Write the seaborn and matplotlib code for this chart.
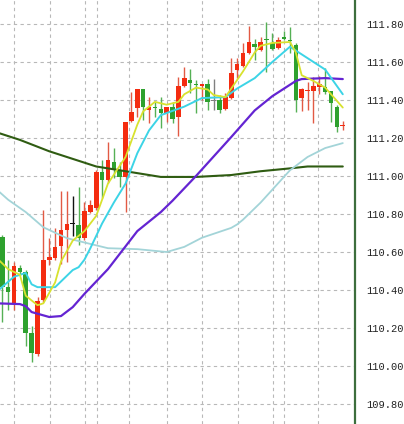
import numpy as np
import pandas as pd
import matplotlib
matplotlib.use("Agg")
import matplotlib.pyplot as plt
import seaborn as sns

# ---------------- data ----------------
opens = [110.679, 110.416, 110.331, 110.515, 110.494, 110.173, 110.063, 110.347, 110.558, 110.568,
         110.631, 110.715, 110.747, 110.742, 110.673, 110.810, 110.831, 111.021, 110.979, 111.073,
         111.031, 110.994, 111.289, 111.358, 111.458, 111.347, 111.363, 111.352, 111.331, 111.363,
         111.310, 111.473, 111.505, 111.484, 111.473, 111.484, 111.396, 111.400, 111.352, 111.410,
         111.558, 111.579, 111.647, 111.694, 111.663, 111.717, 111.700, 111.673, 111.731, 111.712,
         111.689, 111.410, 111.445, 111.447, 111.468, 111.468, 111.447, 111.363, 111.261]
highs = [110.690, 110.558, 110.547, 110.531, 110.505, 110.210, 110.363, 110.821, 110.673, 110.726,
         110.921, 110.921, 110.894, 110.942, 110.863, 110.873, 111.031, 111.084, 111.179, 111.147,
         111.073, 111.284, 111.442, 111.458, 111.458, 111.415, 111.389, 111.415, 111.363, 111.389,
         111.521, 111.573, 111.563, 111.505, 111.484, 111.510, 111.510, 111.426, 111.437, 111.621,
         111.621, 111.700, 111.789, 111.721, 111.731, 111.810, 111.752, 111.731, 111.763, 111.784,
         111.700, 111.463, 111.494, 111.521, 111.526, 111.568, 111.447, 111.373, 111.289]
lows = [110.231, 110.294, 110.294, 110.479, 110.105, 110.021, 110.052, 110.337, 110.531, 110.558,
        110.537, 110.547, 110.684, 110.636, 110.663, 110.805, 110.821, 110.884, 110.963, 110.989,
        110.942, 110.810, 111.284, 111.310, 111.294, 111.279, 111.310, 111.252, 111.284, 111.279,
        111.210, 111.468, 111.437, 111.331, 111.400, 111.347, 111.347, 111.331, 111.347, 111.405,
        111.515, 111.573, 111.642, 111.610, 111.658, 111.547, 111.663, 111.668, 111.715, 111.647,
        111.337, 111.342, 111.347, 111.279, 111.431, 111.431, 111.284, 111.231, 111.242]
closes = [110.416, 110.389, 110.526, 110.494, 110.173, 110.068, 110.342, 110.558, 110.573, 110.626,
          110.715, 110.747, 110.747, 110.673, 110.815, 110.847, 111.021, 110.979, 111.084, 111.031,
          110.994, 111.284, 111.337, 111.458, 111.363, 111.363, 111.358, 111.331, 111.363, 111.300,
          111.473, 111.515, 111.489, 111.479, 111.484, 111.389, 111.396, 111.347, 111.415, 111.542,
          111.589, 111.647, 111.705, 111.679, 111.705, 111.713, 111.668, 111.715, 111.721, 111.708,
          111.400, 111.458, 111.449, 111.473, 111.484, 111.442, 111.384, 111.258, 111.265]
doji_colors = {12: "#111111", 36: "#808080"}

# moving averages (candle index, price)
ma_yellow_x = [-1, 1, 3, 4, 6, 7, 9, 10, 12, 14, 16, 18, 21, 23, 24, 26, 28, 30, 31, 33, 35, 36, 38, 39,
               41, 43, 44, 46, 49, 50, 51, 53, 55, 58]
ma_yellow_y = [110.57, 110.51, 110.48, 110.37, 110.32, 110.33, 110.44, 110.55, 110.66, 110.71, 110.79,
               110.96, 111.10, 111.27, 111.34, 111.39, 111.375, 111.39, 111.43, 111.465, 111.455,
               111.426, 111.415, 111.46, 111.55, 111.65, 111.685, 111.70, 111.705, 111.65, 111.53,
               111.50, 111.465, 111.36]
ma_cyan_x = [-1, 2, 4, 5, 6, 9, 12, 13, 14, 15, 17, 19, 21, 23, 25, 27, 31, 34, 38, 40, 43, 46, 49, 51, 55, 58]
ma_cyan_y = [110.39, 110.47, 110.49, 110.43, 110.415, 110.415, 110.505, 110.52, 110.56, 110.62, 110.75,
             110.86, 110.96, 111.12, 111.24, 111.32, 111.365, 111.41, 111.415, 111.46, 111.515, 111.60,
             111.68, 111.64, 111.56, 111.43]
ma_purple_x = [-1, 3, 4, 5, 8, 10, 12, 14, 18, 22, 23, 27, 29, 33, 39, 43, 46, 47, 50, 51, 55, 58]
ma_purple_y = [110.33, 110.326, 110.315, 110.284, 110.258, 110.263, 110.31, 110.38, 110.51, 110.67,
               110.71, 110.81, 110.87, 111.00, 111.205, 111.345, 111.42, 111.44, 111.50, 111.51,
               111.515, 111.51]
ma_teal_x = [-1, 1, 4, 7, 11, 14, 18, 23, 28, 31, 34, 39, 40, 41, 44, 49, 52, 55, 58]
ma_teal_y = [110.93, 110.875, 110.81, 110.73, 110.673, 110.65, 110.62, 110.615, 110.60, 110.627,
             110.675, 110.727, 110.745, 110.77, 110.86, 111.03, 111.10, 111.147, 111.173]
ma_dkgreen_x = [-1, 3, 8, 11, 16, 18, 22, 27, 33, 39, 44, 49, 52, 58]
ma_dkgreen_y = [111.23, 111.19, 111.13, 111.10, 111.05, 111.04, 111.02, 110.995, 110.995, 111.005,
                111.025, 111.04, 111.05, 111.05]

price_ticks = [109.80, 110.00, 110.20, 110.40, 110.60, 110.80, 111.00, 111.20, 111.40, 111.60, 111.80]
vgrid_pos = [1.99, 8.13, 14.09, 16.13, 21.58, 28.06, 34.02, 40.15, 46.1, 48.0, 53.8]

# ---------------- style ----------------
sns.set_style("white")
plt.rcParams["font.family"] = ["Liberation Mono", "DejaVu Sans Mono"]

UP = "#f42c10"
DOWN = "#2ea12e"
UP_WICK = "#e25a44"
DOWN_WICK = "#55b055"

fig = plt.figure(figsize=(4.04, 4.24), dpi=100)
fig.patch.set_facecolor("white")
ax = fig.add_axes([0, 0, 355 / 404, 1])
ax.set_facecolor("white")
ax.set_xlim(-0.39, 60.08)
ax.set_ylim(109.695, 111.926)

grid_kw = dict(color="#b8b8b8", lw=0.8, linestyle=(0, (3, 3)), zorder=0)
for p in price_ticks:
    ax.axhline(p, **grid_kw)
for v in vgrid_pos:
    ax.axvline(v, **grid_kw)

df = pd.DataFrame({"o": opens, "h": highs, "l": lows, "c": closes})
df["i"] = np.arange(len(df))
body_cols, wick_cols = [], []
for i, r in df.iterrows():
    if i in doji_colors:
        body_cols.append(doji_colors[i]); wick_cols.append(doji_colors[i])
    elif r.c >= r.o:
        body_cols.append(UP); wick_cols.append(UP_WICK)
    else:
        body_cols.append(DOWN); wick_cols.append(DOWN_WICK)

bottoms = np.minimum(df.o, df.c)
heights = np.maximum(np.abs(df.c - df.o), 0.006)
ax.vlines(df.i, df.l, df.h, colors=wick_cols, lw=1.0, zorder=2)
ax.bar(df.i, heights, bottom=bottoms, width=0.78, color=body_cols, linewidth=0, zorder=3)

lines = [
    (ma_dkgreen_x, ma_dkgreen_y, "#2f5c12", 1.5),
    (ma_teal_x, ma_teal_y, "#a3d4d8", 1.3),
    (ma_purple_x, ma_purple_y, "#6424d2", 1.6),
    (ma_cyan_x, ma_cyan_y, "#3cd4e6", 1.4),
    (ma_yellow_x, ma_yellow_y, "#d8e22e", 1.3),
]
for xs, ys, col, lw in lines:
    sns.lineplot(x=xs, y=ys, ax=ax, color=col, lw=lw, sort=False, zorder=4)

ax.set_xticks([])
ax.set_yticks(price_ticks)
ax.set_yticklabels([f"{p:.2f}" for p in price_ticks])
ax.yaxis.tick_right()
ax.tick_params(axis="y", length=0, pad=8, labelsize=7.5, labelcolor="#222222")
for s in ["top", "bottom", "left"]:
    ax.spines[s].set_visible(False)
ax.spines["right"].set_color("#3d6e3d")
ax.spines["right"].set_linewidth(1.6)
ax.set_xlabel("")
ax.set_ylabel("")

fig.savefig("out.png", dpi=100, facecolor="white")
